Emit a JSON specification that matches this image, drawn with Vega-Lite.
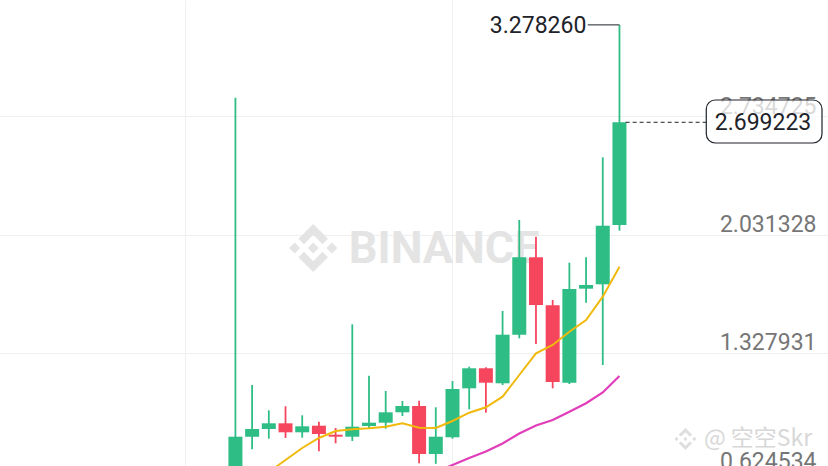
{
  "$schema": "https://vega.github.io/schema/vega-lite/v6.json",
  "width": 828,
  "height": 472,
  "autosize": {"type": "none"},
  "padding": 0,
  "background": "#ffffff",
  "config": {"view": {"stroke": null}, "font": "Roboto"},
  "datasets": {
    "candles": [
      {"i": 0, "open": 0.58, "high": 2.8453, "low": 0.55, "close": 0.8297, "dir": "up"},
      {"i": 1, "open": 0.8297, "high": 1.1371, "low": 0.7547, "close": 0.8754, "dir": "up"},
      {"i": 2, "open": 0.8754, "high": 0.9866, "low": 0.8178, "close": 0.9093, "dir": "up"},
      {"i": 3, "open": 0.9093, "high": 1.0104, "low": 0.8219, "close": 0.8558, "dir": "down"},
      {"i": 4, "open": 0.8558, "high": 0.9569, "low": 0.8237, "close": 0.8915, "dir": "up"},
      {"i": 5, "open": 0.8951, "high": 0.9188, "low": 0.7428, "close": 0.8457, "dir": "down"},
      {"i": 6, "open": 0.8415, "high": 0.8814, "low": 0.7904, "close": 0.8297, "dir": "down"},
      {"i": 7, "open": 0.8297, "high": 1.498, "low": 0.8041, "close": 0.8891, "dir": "up"},
      {"i": 8, "open": 0.8933, "high": 1.1924, "low": 0.8796, "close": 0.9129, "dir": "up"},
      {"i": 9, "open": 0.9129, "high": 1.1014, "low": 0.8772, "close": 0.9747, "dir": "up"},
      {"i": 10, "open": 0.9747, "high": 1.0419, "low": 0.9527, "close": 1.0122, "dir": "up"},
      {"i": 11, "open": 1.0122, "high": 1.0437, "low": 0.6715, "close": 0.7268, "dir": "down"},
      {"i": 12, "open": 0.7268, "high": 1.0045, "low": 0.6685, "close": 0.8297, "dir": "up"},
      {"i": 13, "open": 0.8261, "high": 1.1608, "low": 0.8178, "close": 1.1133, "dir": "up"},
      {"i": 14, "open": 1.1174, "high": 1.2459, "low": 0.9926, "close": 1.2364, "dir": "up"},
      {"i": 15, "open": 1.2364, "high": 1.2423, "low": 0.9724, "close": 1.1507, "dir": "down"},
      {"i": 16, "open": 1.1472, "high": 1.5771, "low": 1.1371, "close": 1.4361, "dir": "up"},
      {"i": 17, "open": 1.4361, "high": 2.1181, "low": 1.4147, "close": 1.8964, "dir": "up"},
      {"i": 18, "open": 1.8964, "high": 2.0188, "low": 1.3808, "close": 1.6127, "dir": "down"},
      {"i": 19, "open": 1.611, "high": 1.6425, "low": 1.1174, "close": 1.1549, "dir": "down"},
      {"i": 20, "open": 1.1507, "high": 1.8642, "low": 1.143, "close": 1.7079, "dir": "up"},
      {"i": 21, "open": 1.7097, "high": 1.8964, "low": 1.6264, "close": 1.7317, "dir": "up"},
      {"i": 22, "open": 1.7358, "high": 2.4909, "low": 1.256, "close": 2.0842, "dir": "up"},
      {"i": 23, "open": 2.0884, "high": 3.27826, "low": 2.0545, "close": 2.699223, "dir": "up"}
    ],
    "ma7": [
      {"i": 1, "v": 0.5425},
      {"i": 2, "v": 0.6198},
      {"i": 3, "v": 0.6911},
      {"i": 4, "v": 0.7625},
      {"i": 5, "v": 0.8219},
      {"i": 6, "v": 0.8636},
      {"i": 7, "v": 0.8737},
      {"i": 8, "v": 0.8796},
      {"i": 9, "v": 0.8891},
      {"i": 10, "v": 0.9093},
      {"i": 11, "v": 0.8832},
      {"i": 12, "v": 0.8814},
      {"i": 13, "v": 0.923},
      {"i": 14, "v": 0.9724},
      {"i": 15, "v": 1.0045},
      {"i": 16, "v": 1.0675},
      {"i": 17, "v": 1.1965},
      {"i": 18, "v": 1.3255},
      {"i": 19, "v": 1.3749},
      {"i": 20, "v": 1.454},
      {"i": 21, "v": 1.5235},
      {"i": 22, "v": 1.6621},
      {"i": 23, "v": 1.8405}
    ],
    "ma25": [
      {"i": 12, "v": 0.6215},
      {"i": 13, "v": 0.6614},
      {"i": 14, "v": 0.703},
      {"i": 15, "v": 0.7417},
      {"i": 16, "v": 0.7892},
      {"i": 17, "v": 0.8487},
      {"i": 18, "v": 0.8963},
      {"i": 19, "v": 0.929},
      {"i": 20, "v": 0.9783},
      {"i": 21, "v": 1.0283},
      {"i": 22, "v": 1.0925},
      {"i": 23, "v": 1.1906}
    ]
  },
  "layer": [
    {
      "data": {"values": [{"i": 4.66, "v": 1.9517}]},
      "mark": {"type": "point", "filled": true, "color": "#e4e4e4", "opacity": 1, "size": 2304, "strokeWidth": 0,
        "shape": "M-0.388,-0.16L0,-0.548L0.388,-0.16L0.614,-0.386L0,-1L-0.614,-0.386Z M-1,0L-0.774,-0.226L-0.548,0L-0.774,0.226Z M-0.226,0L0,-0.226L0.226,0L0,0.226Z M0.548,0L0.774,-0.226L1,0L0.774,0.226Z M-0.388,0.16L0,0.548L0.388,0.16L0.614,0.386L0,1L-0.614,0.386Z"},
      "encoding": {
        "x": {"field": "i", "type": "quantitative", "title": null,
          "scale": {"domain": [-13.8, 35.19], "nice": false, "zero": false},
          "axis": {"values": [-3, 13], "grid": true, "gridColor": "#efefef", "labels": false, "ticks": false, "domain": false, "title": null}},
        "y": {"field": "v", "type": "quantitative", "title": null,
          "scale": {"domain": [0.61977, 3.42623], "nice": false, "zero": false},
          "axis": {"orient": "right", "values": [0.624534, 1.327931, 2.031328, 2.734725], "format": ".6f", "grid": true, "gridColor": "#efefef", "domain": false, "ticks": false, "tickSize": 0, "labelPadding": -12, "labelAlign": "right", "labelBaseline": "alphabetic", "labelOffset": -3, "labelFontSize": 23, "labelColor": "#767676", "labelFont": "Roboto", "labelFlush": false, "labelOverlap": false, "labelBound": false, "title": null}}
      }
    },
    {
      "data": {"values": [{"i": 6.79, "v": 1.9457, "t": "BINANCE"}]},
      "mark": {"type": "text", "align": "left", "baseline": "middle", "fontSize": 45, "fontWeight": "bold", "font": "Roboto", "color": "#e4e4e4"},
      "encoding": {
        "x": {"field": "i", "type": "quantitative", "title": null},
        "y": {"field": "v", "type": "quantitative", "title": null},
        "text": {"field": "t"}
      }
    },
    {
      "data": {"name": "candles"},
      "mark": {"type": "rule", "strokeWidth": 1.8, "clip": true},
      "encoding": {
        "x": {"field": "i", "type": "quantitative", "title": null},
        "y": {"field": "low", "type": "quantitative", "title": null},
        "y2": {"field": "high"},
        "color": {"field": "dir", "type": "nominal", "legend": null, "scale": {"domain": ["up", "down"], "range": ["#2EBD85", "#F6465D"]}}
      }
    },
    {
      "data": {"name": "candles"},
      "mark": {"type": "bar", "size": 14, "clip": true},
      "encoding": {
        "x": {"field": "i", "type": "quantitative", "title": null},
        "y": {"field": "open", "type": "quantitative", "title": null},
        "y2": {"field": "close"},
        "color": {"field": "dir", "type": "nominal", "legend": null, "scale": {"domain": ["up", "down"], "range": ["#2EBD85", "#F6465D"]}}
      }
    },
    {
      "data": {"name": "ma7"},
      "mark": {"type": "line", "color": "#F0B90B", "strokeWidth": 2, "clip": true},
      "encoding": {
        "x": {"field": "i", "type": "quantitative", "title": null},
        "y": {"field": "v", "type": "quantitative", "title": null}
      }
    },
    {
      "data": {"name": "ma25"},
      "mark": {"type": "line", "color": "#E13DB9", "strokeWidth": 2.2, "clip": true},
      "encoding": {
        "x": {"field": "i", "type": "quantitative", "title": null},
        "y": {"field": "v", "type": "quantitative", "title": null}
      }
    },
    {
      "data": {"values": [{"a": 21.1, "b": 23, "v": 3.27826}]},
      "mark": {"type": "rule", "color": "#1E2329", "strokeWidth": 1},
      "encoding": {
        "x": {"field": "a", "type": "quantitative", "title": null},
        "x2": {"field": "b"},
        "y": {"field": "v", "type": "quantitative", "title": null}
      }
    },
    {
      "data": {"values": [{"a": 21.02, "v": 3.27826, "t": "3.278260"}]},
      "mark": {"type": "text", "align": "right", "baseline": "middle", "fontSize": 23, "font": "Roboto", "color": "#1E2329", "dy": 1},
      "encoding": {
        "x": {"field": "a", "type": "quantitative", "title": null},
        "y": {"field": "v", "type": "quantitative", "title": null},
        "text": {"field": "t"}
      }
    },
    {
      "data": {"values": [{"a": 23.37, "b": 28.2, "v": 2.699223}]},
      "mark": {"type": "rule", "color": "#1E2329", "strokeWidth": 1, "strokeDash": [4, 3]},
      "encoding": {
        "x": {"field": "a", "type": "quantitative", "title": null},
        "x2": {"field": "b"},
        "y": {"field": "v", "type": "quantitative", "title": null}
      }
    },
    {
      "data": {"values": [{"a": 28.2, "b": 35.13, "top": 2.8316, "bot": 2.576}]},
      "mark": {"type": "rect", "cornerRadius": 9, "fill": "#ffffff", "fillOpacity": 0.72, "stroke": "#1E2329", "strokeWidth": 1.2},
      "encoding": {
        "x": {"field": "a", "type": "quantitative", "title": null},
        "x2": {"field": "b"},
        "y": {"field": "top", "type": "quantitative", "title": null},
        "y2": {"field": "bot"}
      }
    },
    {
      "data": {"values": [{"a": 34.49, "v": 2.699223, "t": "2.699223"}]},
      "mark": {"type": "text", "align": "right", "baseline": "middle", "fontSize": 23, "font": "Roboto", "color": "#1E2329", "dy": 1},
      "encoding": {
        "x": {"field": "a", "type": "quantitative", "title": null},
        "y": {"field": "v", "type": "quantitative", "title": null},
        "text": {"field": "t"}
      }
    },
    {
      "data": {"values": [{"i": 26.95, "v": 0.816}]},
      "mark": {"type": "point", "filled": true, "color": "#dcdcdc", "opacity": 0.9, "size": 529, "stroke": "#ffffff", "strokeWidth": 1,
        "shape": "M-0.388,-0.16L0,-0.548L0.388,-0.16L0.614,-0.386L0,-1L-0.614,-0.386Z M-1,0L-0.774,-0.226L-0.548,0L-0.774,0.226Z M-0.226,0L0,-0.226L0.226,0L0,0.226Z M0.548,0L0.774,-0.226L1,0L0.774,0.226Z M-0.388,0.16L0,0.548L0.388,0.16L0.614,0.386L0,1L-0.614,0.386Z"},
      "encoding": {
        "x": {"field": "i", "type": "quantitative", "title": null},
        "y": {"field": "v", "type": "quantitative", "title": null}
      }
    },
    {
      "data": {"values": [{"i": 34.54, "v": 0.816, "t": "@ 空空Skr"}]},
      "mark": {"type": "text", "align": "right", "baseline": "middle", "fontSize": 23, "font": "Noto Sans CJK SC", "color": "#d6d6d6", "opacity": 0.95},
      "encoding": {
        "x": {"field": "i", "type": "quantitative", "title": null},
        "y": {"field": "v", "type": "quantitative", "title": null},
        "text": {"field": "t"}
      }
    }
  ]
}
